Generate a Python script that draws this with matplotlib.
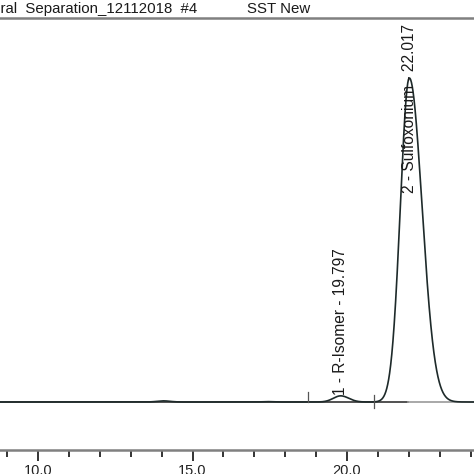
import numpy as np
import matplotlib
matplotlib.use("Agg")
import matplotlib.pyplot as plt
from matplotlib.ticker import MultipleLocator

plt.rcParams['font.family'] = ['Liberation Sans', 'DejaVu Sans']

# peak table (time in min, height in % of main peak)
peak_times = [14.05, 17.40, 19.797, 22.017]
peak_heights = [0.35, 0.12, 1.9, 100.0]
sigma_left = [0.20, 0.15, 0.24, 0.29]
sigma_right = [0.22, 0.15, 0.26, 0.41]

label_times = [19.797, 22.017]
label_texts = ["1 - R-Isomer - 19.797", "2 - Sulfoxonium - 22.017"]
label_y = [2.2, 64.5]

# integration delimiters (time, y bottom, y top)
delim_times = [18.74, 20.87]
delim_low = [0.0, -1.9]
delim_high = [3.1, 2.2]

x_lo, x_hi = 8.77, 24.11
t = np.linspace(x_lo, x_hi, 3000)
signal = np.zeros_like(t)
for rt, h, sl, sr in zip(peak_times, peak_heights, sigma_left, sigma_right):
    s = np.where(t < rt, sl, sr)
    signal += h * np.exp(-0.5 * ((t - rt) / s) ** 2)

fig = plt.figure(figsize=(4.74, 4.74), dpi=100)
ax = fig.add_axes([0, 24 / 474, 1, 432 / 474])

ax.plot([x_lo, 21.97], [0, 0], color='#333333', lw=1.2)
ax.plot([21.97, x_hi], [0, 0], color='#9a9a9a', lw=1.2)
ax.plot(t, signal, color='#1e2a2a', lw=1.2)

for xt, lo, hi in zip(delim_times, delim_low, delim_high):
    ax.plot([xt, xt], [lo, hi], color='#555555', lw=0.9)

for xt, txt, yb in zip(label_times, label_texts, label_y):
    ax.text(xt, yb, txt, rotation=90, ha='center', va='bottom',
            fontsize=11.2, color='#1a1a1a')

ax.set_xlim(x_lo, x_hi)
ax.set_ylim(-48 / 3.24, 384 / 3.24)

for side in ['left', 'right']:
    ax.spines[side].set_visible(False)
for side in ['top', 'bottom']:
    ax.spines[side].set_color('#808080')
    ax.spines[side].set_linewidth(1.8)

ax.set_yticks([])
ax.xaxis.set_major_locator(MultipleLocator(5))
ax.xaxis.set_minor_locator(MultipleLocator(1))
ax.xaxis.set_major_formatter(matplotlib.ticker.FormatStrFormatter('%.1f'))
ax.tick_params(axis='x', which='major', direction='out', length=8, width=1.4,
               color='#333333', labelsize=10.5, labelcolor='#222222', pad=2)
ax.tick_params(axis='x', which='minor', direction='out', length=5, width=1.4,
               color='#333333')

fig.text(197 / 474, 1 - 9 / 474, "Chiral  Separation_12112018  #4",
         ha='right', va='center', fontsize=10.8, color='#1a1a1a')
fig.text(247 / 474, 1 - 9 / 474, "SST New",
         ha='left', va='center', fontsize=10.8, color='#1a1a1a')

fig.savefig('out.png', dpi=100)
